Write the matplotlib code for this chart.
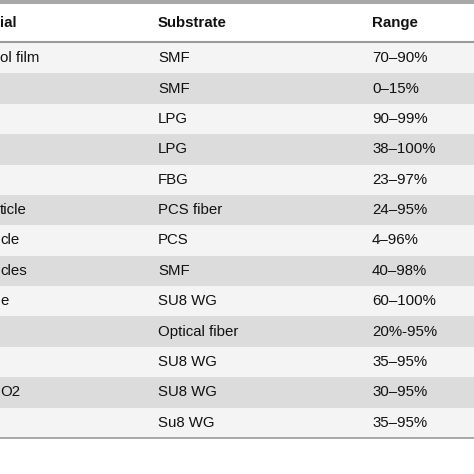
import matplotlib.pyplot as plt
from matplotlib.patches import Rectangle

plt.rcParams['font.family'] = ['Liberation Sans', 'DejaVu Sans']

headers = ["ial", "Substrate", "Range"]
materials = ["ol film", "", "", "", "", "ticle", "cle", "cles", "e", "", "", "O2", ""]
substrates = ["SMF", "SMF", "LPG", "LPG", "FBG", "PCS fiber", "PCS", "SMF",
              "SU8 WG", "Optical fiber", "SU8 WG", "SU8 WG", "Su8 WG"]
ranges = ["70–90%", "0–15%", "90–99%", "38–100%", "23–97%", "24–95%", "4–96%",
          "40–98%", "60–100%", "20%-95%", "35–95%", "30–95%", "35–95%"]

fig = plt.figure(figsize=(4.74, 4.74), dpi=100)
ax = fig.add_axes([0, 0, 1, 1])
ax.set_xlim(0, 474)
ax.set_ylim(474, 0)
ax.axis('off')

col_x = [0, 158, 372]
top, head_bot, bot = 3, 43, 438
row_h = (bot - head_bot) / len(substrates)

ax.add_patch(Rectangle((0, 0), 474, 3.5, color='#a8a8a8', lw=0))
for j, h in enumerate(headers):
    ax.text(col_x[j], (top + head_bot) / 2, h, fontsize=10.8, fontweight='bold',
            va='center', ha='left', color='#111111')
ax.plot([0, 474], [head_bot - 1, head_bot - 1], color='#9a9a9a', lw=1.5)

for i in range(len(substrates)):
    y0 = head_bot + i * row_h
    ax.add_patch(Rectangle((0, y0), 474, row_h,
                           color='#f4f4f4' if i % 2 == 0 else '#dcdcdd', lw=0))
    for j, t in enumerate([materials[i], substrates[i], ranges[i]]):
        ax.text(col_x[j], y0 + row_h / 2, t, fontsize=10.8, va='center',
                ha='left', color='#111111')

ax.plot([0, 474], [bot, bot], color='#9a9a9a', lw=1.2)
fig.savefig("out.png", dpi=100, facecolor='white')
